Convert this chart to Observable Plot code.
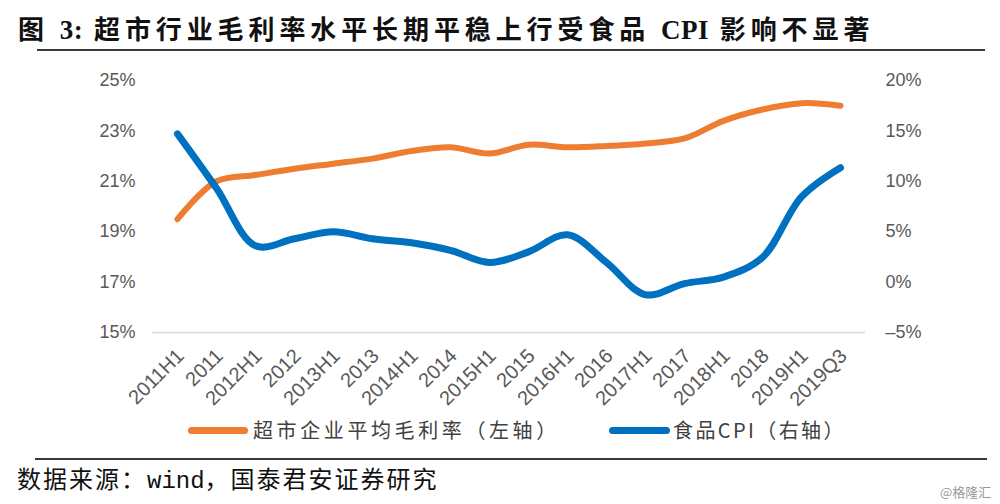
<!DOCTYPE html>
<html>
<head>
<meta charset="utf-8">
<script src="https://cdn.jsdelivr.net/npm/d3@7"></script>
<script src="https://cdn.jsdelivr.net/npm/@observablehq/plot@0.6"></script>
<style>
  html, body { margin: 0; padding: 0; background: #fff; }
  #wrap { position: relative; width: 1000px; height: 504px; overflow: hidden; background: #fff; font-family: "Noto Sans CJK SC", sans-serif; }
  #title { position: absolute; left: 18px; top: 9px; font-size: 26px; font-weight: 700; letter-spacing: 4.9px; color: #111; white-space: nowrap; line-height: 38px; }
  #title .lat { letter-spacing: 0.5px; font-family: "Liberation Serif", serif; font-size: 27px; }
  .hr { position: absolute; height: 2px; background: #3a3a3a; }
  #chart { position: absolute; left: 0; top: 0; }
  .leg { position: absolute; top: 416px; font-size: 20px; color: #404040; white-space: nowrap; line-height: 28px; letter-spacing: 2.4px; }
  .sw { position: absolute; top: 427px; height: 7px; border-radius: 4px; }
  #src { position: absolute; left: 17px; top: 463px; font-size: 24px; color: #111; white-space: nowrap; line-height: 30px; letter-spacing: 2px; }
  #src .mono { font-family: "Liberation Mono", monospace; letter-spacing: 0; }
  #wm { position: absolute; left: 940px; top: 482px; font-size: 13px; color: #999; white-space: nowrap; }
</style>
</head>
<body>
<div id="wrap">
  <div id="chart"></div>
  <div id="title">图 <span class="lat">3:</span> 超市行业毛利率水平长期平稳上行受食品 <span class="lat">CPI</span> 影响不显著</div>
  <div class="hr" style="left:37px; width:948px; top:49px;"></div>
  <div class="sw" style="left:188px; width:60px; background:#ED7D31;"></div>
  <div class="leg" style="left:253px; letter-spacing:3.6px;">超市企业平均毛利率（左轴）</div>
  <div class="sw" style="left:609px; width:61px; background:#0070C0;"></div>
  <div class="leg" style="left:673px;">食品CPI（右轴）</div>
  <div class="hr" style="left:35px; width:952px; top:458px;"></div>
  <div id="src">数据来源：<span class="mono">wind</span>，国泰君安证券研究</div>
  <div id="wm">@格隆汇</div>
</div>
<script>
const categories = ["2011H1","2011","2012H1","2012","2013H1","2013","2014H1","2014","2015H1","2015","2016H1","2016","2017H1","2017","2018H1","2018","2019H1","2019Q3"];
const grossMargin = [19.5, 21.0, 21.25, 21.5, 21.7, 21.9, 22.2, 22.35, 22.1, 22.45, 22.35, 22.4, 22.5, 22.7, 23.4, 23.85, 24.1, 24.0];
const foodCPI = [14.7, 9.3, 3.6, 4.3, 5.0, 4.3, 3.9, 3.15, 1.95, 3.0, 4.7, 1.95, -1.25, -0.15, 0.5, 2.45, 8.45, 11.35];
const leftTicks = [15, 17, 19, 21, 23, 25];
const rightTicks = [-5, 0, 5, 10, 15, 20];

// map right-axis value into left-axis domain
const toLeft = v => 15 + (v + 5) * (10 / 25);
const toRight = y => Math.round((y - 15) * 2.5 - 5);

const rows = categories.map((c, i) => ({cat: c, gm: grossMargin[i], cpi: foodCPI[i]}));

const chart = Plot.plot({
  width: 1000,
  height: 420,
  marginTop: 80,
  marginBottom: 88,
  marginLeft: 152,
  marginRight: 135,
  style: {fontFamily: "'Liberation Sans', Arial, sans-serif", color: "#595959", background: "transparent", overflow: "visible"},
  x: {type: "point", domain: categories, padding: 0.5},
  y: {domain: [15, 25]},
  marks: [
    Plot.ruleY([15], {stroke: "#d9d9d9", strokeWidth: 1.5}),
    Plot.axisY({anchor: "left", ticks: leftTicks, tickFormat: d => d + "%", tickSize: 0, tickPadding: 17, fontSize: 18, label: null}),
    Plot.axisY({anchor: "right", ticks: rightTicks.map(toLeft), tickFormat: d => {const v = toRight(d); return (v < 0 ? "–" + Math.abs(v) : v) + "%";}, tickSize: 0, tickPadding: 20, fontSize: 18, label: null}),
    Plot.axisX({tickRotate: -45, tickSize: 0, tickPadding: 20, fontSize: 20, dx: 3, label: null}),
    Plot.line(rows, {x: "cat", y: "gm", stroke: "#ED7D31", strokeWidth: 6, curve: "catmull-rom", strokeLinecap: "round"}),
    Plot.line(rows, {x: "cat", y: d => toLeft(d.cpi), stroke: "#0070C0", strokeWidth: 7, curve: "catmull-rom", strokeLinecap: "round"})
  ]
});
document.getElementById("chart").appendChild(chart);
</script>
</body>
</html>
